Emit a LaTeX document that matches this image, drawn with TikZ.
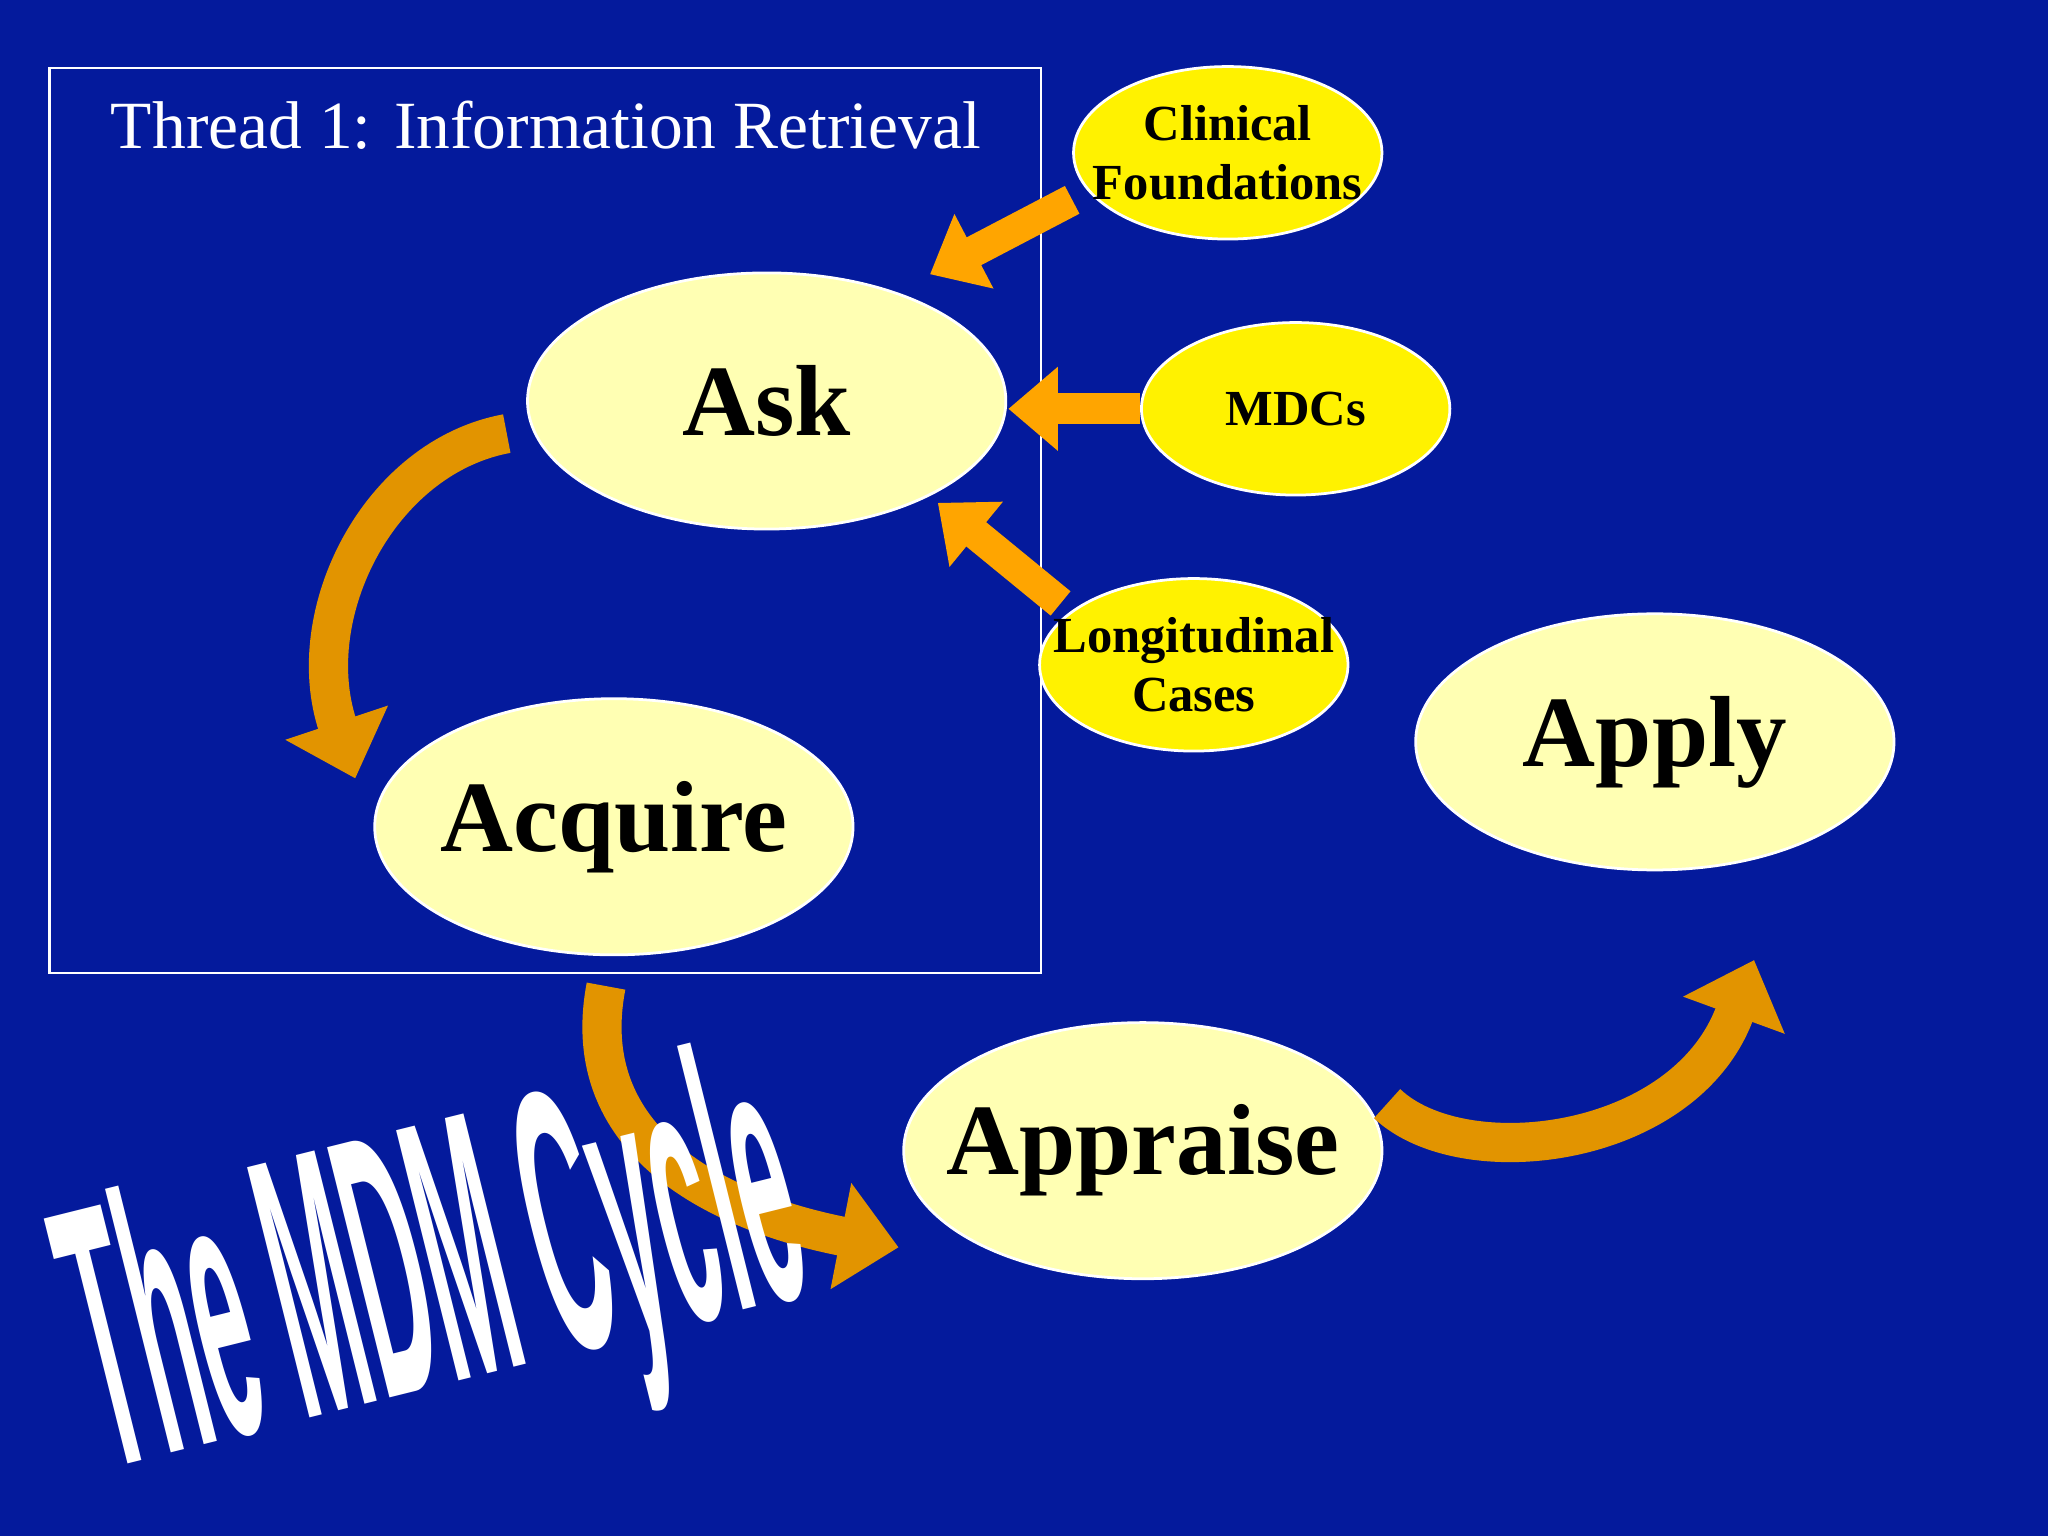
\documentclass[tikz,border=0pt]{standalone}
\usepackage{fontspec}
\setmainfont{Liberation Serif}
\newfontfamily\wordart{Liberation Sans}
\usetikzlibrary{arrows.meta,shapes.geometric}
\definecolor{bg}{HTML}{041A9C}
\definecolor{pale}{HTML}{FFFFB3}
\definecolor{orng}{HTML}{FFA500}
\definecolor{dorng}{HTML}{E29400}
\tikzset{
  big/.style={ellipse,fill=pale,draw=white,line width=0.6pt,minimum width=3.66cm,minimum height=1.96cm,inner sep=0pt},
  bigtext/.style={font=\bfseries\fontsize{22}{22}\selectfont},
  small/.style={ellipse,fill=yellow,draw=white,line width=0.6pt,minimum width=2.36cm,minimum height=1.32cm,inner sep=0pt},
  smalltext/.style={align=center,font=\bfseries\fontsize{11}{13}\selectfont},
  sarrow/.style={orng,line width=0.24cm,-{Triangle[length=0.38cm,width=0.62cm]}},
  carrow/.style={dorng,line width=0.3cm,-{Triangle[length=0.45cm,width=0.8cm]}}
}
\begin{document}
\begin{tikzpicture}[x=0.01cm,y=-0.01cm]
\fill[bg] (0,0) rectangle (1568,1176);
\useasboundingbox (0,0) rectangle (1568,1176);
\draw[white,line width=0.6pt] (38,52) rectangle (797,745);
\node[white,font=\fontsize{14.7}{15}\selectfont] (title) at (418,96) {Thread 1: Information Retrieval};
\node[big,label={[bigtext]center:Ask}] (ask) at (587,307) {};
\node[big,label={[bigtext]center:Acquire}] (acq) at (470,633) {};
\node[big,label={[bigtext]center:Apply}] (app) at (1267,568) {};
\node[big,label={[bigtext]center:Appraise}] (apr) at (875,881) {};
\node[small,label={[smalltext]center:Clinical\\Foundations}] (cf) at (940,117) {};
\node[small,label={[smalltext]center:MDCs}] (mdc) at (992,313) {};
\node[small,label={[smalltext]center:Longitudinal\\Cases}] (lc) at (914,509) {};
% straight arrows
\coordinate (t1) at (712,210);
\coordinate (t2) at (772,313);
\coordinate (t3) at (718,385);
\draw[sarrow] (cf.west |- 0,153) -- (t1);
\draw[sarrow] (mdc.west) -- (t2);
\draw[sarrow] (812,462) -- (t3);
% curved arrows
\coordinate (c1) at (388,332);
\coordinate (e1) at (272,596);
\draw[carrow] (c1) .. controls (290,350) and (230,470) .. (e1);
\coordinate (c2) at (464,755);
\coordinate (e2) at (688,955);
\draw[carrow] (c2) .. controls (440,880) and (560,930) .. (e2);
\coordinate (c3) at (1062,845);
\coordinate (e3) at (1343,735);
\draw[carrow] (c3) .. controls (1120,900) and (1290,880) .. (e3);
% word art
\node[white,rotate=14,inner sep=0pt] (mdm) at (335,985) {\scalebox{0.45}[1.7]{\wordart\bfseries\fontsize{48}{48}\selectfont The MDM Cycle}};
\end{tikzpicture}
\end{document}
